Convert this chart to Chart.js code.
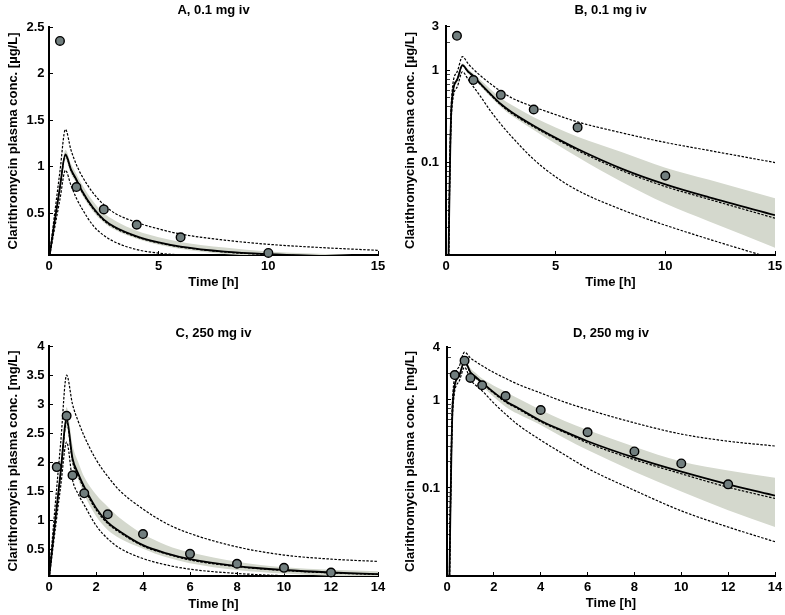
<!DOCTYPE html>
<html>
<head>
<meta charset="utf-8">
<script src="https://cdn.jsdelivr.net/npm/chart.js@4.4.1/dist/chart.umd.min.js"></script>
<style>
  body { margin: 0; background: #fff; }
  #page { position: relative; width: 785px; height: 615px; overflow: hidden; }
  #page canvas { position: absolute; }
</style>
</head>
<body>
<div id="page">
  <canvas id="panel-a" width="392" height="300" style="left:0;top:0"></canvas>
  <canvas id="panel-b" width="388" height="300" style="left:397px;top:0"></canvas>
  <canvas id="panel-c" width="392" height="295" style="left:0;top:320px"></canvas>
  <canvas id="panel-d" width="388" height="295" style="left:397px;top:320px"></canvas>
</div>
<script>
// 0.1 mg iv (panels A and B)
const times01 = [0, 0.25, 0.5, 0.75, 1, 1.25, 1.5, 2, 2.5, 3, 4, 5, 6, 8, 10, 12, 15];
const median01 = [0, 0.40, 0.78, 1.13, 0.97, 0.86, 0.74, 0.56, 0.43, 0.35, 0.25, 0.185, 0.14, 0.086, 0.058, 0.042, 0.027];
const simMedian01 = [0, 0.40, 0.78, 1.12, 0.96, 0.85, 0.73, 0.55, 0.42, 0.34, 0.243, 0.18, 0.135, 0.082, 0.055, 0.040, 0.025];
const simUpper01 = [0, 0.48, 0.95, 1.40, 1.18, 1.02, 0.90, 0.72, 0.59, 0.50, 0.40, 0.33, 0.275, 0.21, 0.165, 0.135, 0.10];
const simLower01 = [0, 0.33, 0.65, 0.96, 0.80, 0.66, 0.55, 0.37, 0.26, 0.19, 0.108, 0.070, 0.050, 0.031, 0.021, 0.0148, 0.009];
const bandHigh01 = [0, 0.42, 0.81, 1.18, 1.03, 0.92, 0.81, 0.63, 0.50, 0.42, 0.31, 0.24, 0.19, 0.13, 0.088, 0.065, 0.041];
const bandLow01 = [0, 0.37, 0.73, 1.08, 0.92, 0.82, 0.70, 0.52, 0.40, 0.32, 0.225, 0.16, 0.115, 0.062, 0.036, 0.023, 0.012];
const obsTimes01 = [0.5, 1.25, 2.5, 4, 6, 10];
const obsConc01 = [2.35, 0.78, 0.54, 0.375, 0.24, 0.072];

// 250 mg iv (panels C and D)
const times250 = [0, 0.25, 0.5, 0.75, 1, 1.25, 1.5, 2, 2.5, 3, 4, 5, 6, 8, 10, 12, 14];
const median250 = [0, 0.95, 1.85, 2.75, 2.07, 1.80, 1.58, 1.22, 0.97, 0.82, 0.58, 0.44, 0.34, 0.221, 0.153, 0.110, 0.082];
const simMedian250 = [0, 0.93, 1.82, 2.70, 2.02, 1.76, 1.55, 1.19, 0.95, 0.80, 0.565, 0.43, 0.325, 0.21, 0.145, 0.102, 0.076];
const simUpper250 = [0, 1.20, 2.35, 3.50, 3.00, 2.70, 2.45, 2.05, 1.76, 1.52, 1.20, 0.95, 0.78, 0.55, 0.41, 0.34, 0.30];
const simLower250 = [0, 0.80, 1.60, 2.35, 1.70, 1.45, 1.27, 0.92, 0.69, 0.53, 0.35, 0.24, 0.167, 0.094, 0.055, 0.036, 0.0245];
const bandHigh250 = [0, 1.00, 1.95, 2.95, 2.30, 2.00, 1.75, 1.45, 1.24, 1.05, 0.77, 0.58, 0.456, 0.295, 0.20, 0.158, 0.131];
const bandLow250 = [0, 0.88, 1.72, 2.60, 1.95, 1.70, 1.45, 1.08, 0.84, 0.70, 0.52, 0.37, 0.27, 0.153, 0.091, 0.056, 0.036];
const obsTimes250 = [0.33, 0.75, 1, 1.5, 2.5, 4, 6, 8, 10, 12];
const obsConc250 = [1.92, 2.80, 1.78, 1.47, 1.11, 0.77, 0.43, 0.26, 0.19, 0.11];

// axis ticks
const xTicks15 = [0, 5, 10, 15];
const xTicks14 = [0, 2, 4, 6, 8, 10, 12, 14];
const yTicksA = [0.5, 1, 1.5, 2, 2.5];
const yTicksC = [0.5, 1, 1.5, 2, 2.5, 3, 3.5, 4];
const yLabelsB = [0.1, 1, 3];
const yLabelsD = [0.1, 1, 4];

const FONT = "'Liberation Sans', Arial, Helvetica, sans-serif";
const tickFont = { family: FONT, size: 13, weight: 'bold' };
const bandColor = '#d4d8cd';
const dotColor = '#717e7e';

Chart.defaults.font.family = FONT;
Chart.defaults.color = '#000';

const panelTitle = {
  id: 'panelTitle',
  afterDraw(chart, args, opts) {
    const { ctx, chartArea } = chart;
    ctx.save();
    ctx.font = 'bold 13px ' + FONT;
    ctx.fillStyle = '#000';
    ctx.textAlign = 'center';
    ctx.textBaseline = 'middle';
    ctx.fillText(opts.text, (chartArea.left + chartArea.right) / 2, opts.y);
    ctx.restore();
  }
};

function logTicks(min, max) {
  const out = [];
  for (let e = Math.floor(Math.log10(min)); e <= Math.ceil(Math.log10(max)); e++) {
    for (let m = 1; m < 10; m++) {
      const v = parseFloat((m * Math.pow(10, e)).toPrecision(3));
      if (v >= min - 1e-12 && v <= max + 1e-12) out.push(v);
    }
  }
  return out;
}

function pts(xs, ys, isLog) {
  return xs.map((x, i) => ({ x: x, y: (isLog && ys[i] <= 0) ? 1e-4 : ys[i] }));
}

function makePanel(p) {
  const isLog = p.log;
  const lineBase = { pointRadius: 0, fill: false, cubicInterpolationMode: 'monotone' };
  const datasets = [
    { data: pts(p.obsT, p.obsC, isLog), showLine: false, pointRadius: 4.3, pointBackgroundColor: dotColor,
      pointBorderColor: '#000', pointBorderWidth: 1.4, clip: false },
    Object.assign({ data: pts(p.t, p.median, isLog), borderColor: '#000', borderWidth: 1.8 }, lineBase),
    Object.assign({ data: pts(p.t, p.simMedian, isLog), borderColor: '#000', borderWidth: 1.2, borderDash: [2.5, 1.5] }, lineBase),
    Object.assign({ data: pts(p.t, p.simUpper, isLog), borderColor: '#000', borderWidth: 1.2, borderDash: [2.5, 1.5] }, lineBase),
    Object.assign({ data: pts(p.t, p.simLower, isLog), borderColor: '#000', borderWidth: 1.2, borderDash: [2.5, 1.5] }, lineBase),
    Object.assign({ data: pts(p.t, p.bandHigh, isLog), borderWidth: 0, borderColor: bandColor }, lineBase, { fill: '+1', backgroundColor: bandColor }),
    Object.assign({ data: pts(p.t, p.bandLow, isLog), borderWidth: 0, borderColor: bandColor }, lineBase)
  ];

  let yTicksList, yLabelCheck;
  if (isLog) {
    yTicksList = logTicks(p.yMin, p.yMax);
    yLabelCheck = v => p.yLabels.some(l => Math.abs(l - v) < 1e-9);
  } else {
    yTicksList = p.yTicks;
    yLabelCheck = () => true;
  }

  new Chart(document.getElementById(p.id), {
    type: 'line',
    data: { datasets: datasets },
    plugins: [panelTitle],
    options: {
      responsive: false,
      animation: false,
      events: [],
      layout: { padding: { left: 0, top: p.top, right: p.right, bottom: 0 } },
      plugins: {
        legend: { display: false },
        tooltip: { enabled: false },
        panelTitle: { text: p.title, y: p.titleY }
      },
      scales: {
        x: {
          type: 'linear',
          min: 0,
          max: p.xMax,
          border: { color: '#000', width: 2 },
          grid: { drawOnChartArea: false, drawTicks: true, tickLength: -4, color: '#000', lineWidth: 1 },
          ticks: { color: '#000', font: tickFont, padding: 7.5, maxRotation: 0, autoSkip: false, callback: v => String(v) },
          afterBuildTicks: s => { s.ticks = p.xTicks.map(v => ({ value: v })); },
          afterFit: s => { s.height = p.xHeight; s.paddingLeft = 0; s.paddingRight = 0; },
          title: { display: true, text: 'Time [h]', color: '#000', font: tickFont, padding: { top: 0, bottom: p.xTitlePad } }
        },
        y: {
          type: isLog ? 'logarithmic' : 'linear',
          min: p.yMin,
          max: p.yMax,
          border: { color: '#000', width: 2 },
          grid: {
            drawOnChartArea: false, drawTicks: true, tickLength: -4,
            color: ctx => (ctx.tick && yLabelCheck(ctx.tick.value)) || !isLog ? '#000' : '#444',
            lineWidth: 1
          },
          ticks: {
            color: '#000', font: tickFont, padding: isLog ? 11 : 8.5, autoSkip: false,
            callback: v => yLabelCheck(v) ? String(v) : ''
          },
          afterBuildTicks: s => { s.ticks = yTicksList.map(v => ({ value: v })); },
          afterFit: s => { s.width = p.yWidth; s.paddingTop = 0; s.paddingBottom = 0; },
          title: { display: true, text: p.yTitle, color: '#000', font: tickFont, padding: { top: 5.2, bottom: 0 } }
        }
      }
    }
  });
}

const common01 = {
  t: times01, median: median01, simMedian: simMedian01, simUpper: simUpper01, simLower: simLower01,
  bandHigh: bandHigh01, bandLow: bandLow01, obsT: obsTimes01, obsC: obsConc01,
  xMax: 15, xTicks: xTicks15, yTitle: 'Clarithromycin plasma conc. [\u00b5g/L]'
};
const common250 = {
  t: times250, median: median250, simMedian: simMedian250, simUpper: simUpper250, simLower: simLower250,
  bandHigh: bandHigh250, bandLow: bandLow250, obsT: obsTimes250, obsC: obsConc250,
  xMax: 14, xTicks: xTicks14, yTitle: 'Clarithromycin plasma conc. [mg/L]'
};

makePanel(Object.assign({}, common01, {
  id: 'panel-a', title: 'A, 0.1 mg iv', titleY: 10.5, log: false, yMin: 0.05, yMax: 2.5, yTicks: yTicksA,
  top: 27, right: 14, yWidth: 49, xHeight: 45, xTitlePad: 9.7
}));
makePanel(Object.assign({}, common01, {
  id: 'panel-b', title: 'B, 0.1 mg iv', titleY: 10.5, log: true, yMin: 0.01, yMax: 3, yLabels: yLabelsB,
  top: 26, right: 10, yWidth: 49, xHeight: 45, xTitlePad: 9.5
}));
makePanel(Object.assign({}, common250, {
  id: 'panel-c', title: 'C, 250 mg iv', titleY: 13, log: false, yMin: 0.05, yMax: 4, yTicks: yTicksC,
  top: 26, right: 14, yWidth: 49, xHeight: 39, xTitlePad: 3.2
}));
makePanel(Object.assign({}, common250, {
  id: 'panel-d', title: 'D, 250 mg iv', titleY: 13, log: true, yMin: 0.01, yMax: 4, yLabels: yLabelsD,
  top: 27, right: 10, yWidth: 50, xHeight: 39, xTitlePad: 3.5
}));
</script>
</body>
</html>
